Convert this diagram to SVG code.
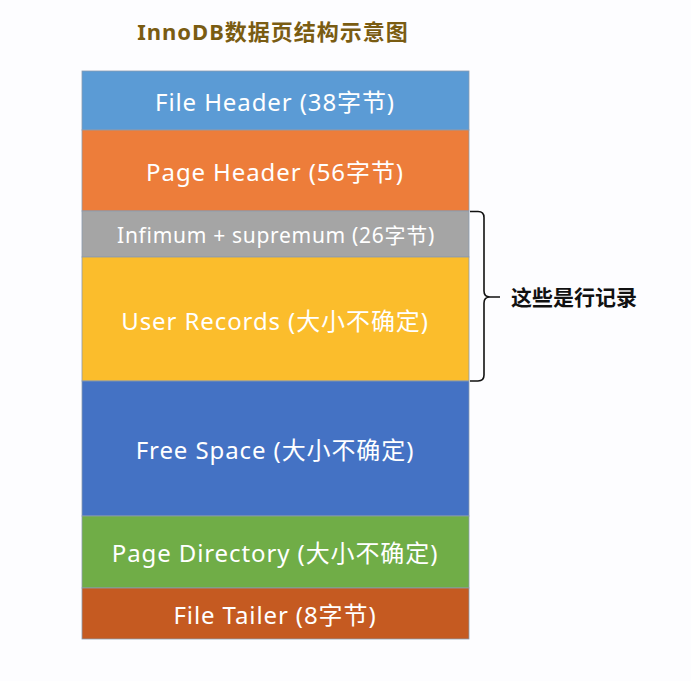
<svg xmlns="http://www.w3.org/2000/svg" width="691" height="681" viewBox="0 0 691 681">
<style>
.lbl{font-family:"Noto Sans","Noto Sans CJK SC",sans-serif;fill:#fff;text-anchor:middle;dominant-baseline:central;font-size:24px;letter-spacing:0.9px}
.sm{font-size:21px;letter-spacing:0.7px}
.ttl{font-family:"Noto Sans","Noto Sans CJK SC",sans-serif;font-weight:bold;font-size:22px;fill:#7a5c12;text-anchor:middle;letter-spacing:1px}
.note{font-family:"Noto Sans","Noto Sans CJK SC",sans-serif;font-weight:bold;font-size:21px;fill:#111;dominant-baseline:central}
.box{stroke:#8a9bb0;stroke-width:0.8}
</style>
<rect width="691" height="681" fill="#fdfdff"/>
<text class="ttl" x="273" y="40">InnoDB数据页结构示意图</text>
<g id="file-header"><rect class="box" x="82" y="71" width="387" height="59" fill="#5b9bd5"/><text class="lbl" x="275" y="101">File Header (38字节)</text></g>
<g id="page-header"><rect class="box" x="82" y="130" width="387" height="81" fill="#ed7d3a"/><text class="lbl" x="275" y="171">Page Header (56字节)</text></g>
<g id="infimum"><rect class="box" x="82" y="211" width="387" height="46" fill="#a5a5a5"/><text class="lbl sm" x="276" y="235">Infimum + supremum (26字节)</text></g>
<g id="user-records"><rect class="box" x="82" y="257" width="387" height="124" fill="#fbbd2c"/><text class="lbl" x="275" y="320">User Records (大小不确定)</text></g>
<g id="free-space"><rect class="box" x="82" y="381" width="387" height="135" fill="#4472c4"/><text class="lbl" x="275" y="449">Free Space (大小不确定)</text></g>
<g id="page-directory"><rect class="box" x="82" y="516" width="387" height="72" fill="#70ad47"/><text class="lbl" x="275" y="552">Page Directory (大小不确定)</text></g>
<g id="file-tailer"><rect class="box" x="82" y="588" width="387" height="51" fill="#c55a21"/><text class="lbl" x="275" y="614">File Tailer (8字节)</text></g>
<g id="connectors"><path d="M470 211.5 H478 Q484 211.5 484 217.5 V291 Q484 297 490 297 H500 M490 297 Q484 297 484 303 V375 Q484 381 478 381 H470" fill="none" stroke="#111" stroke-width="1.6"/></g>
<g id="note"><text class="note" x="511" y="297">这些是行记录</text></g>
</svg>
